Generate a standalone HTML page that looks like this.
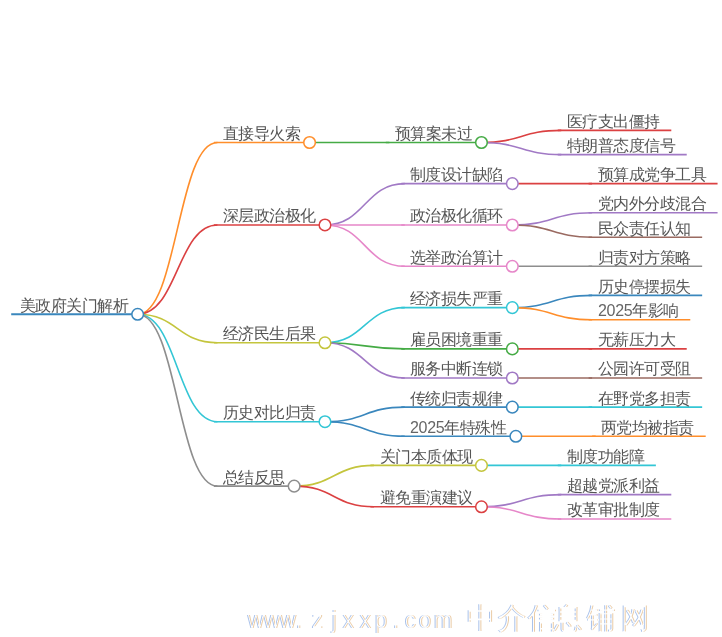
<!DOCTYPE html>
<html><head><meta charset="utf-8"><style>
html,body{margin:0;padding:0;background:#fff;width:722px;height:637px;overflow:hidden}
svg{position:absolute;left:0;top:0}
.t{position:absolute;white-space:nowrap;font-family:"Liberation Sans",sans-serif;font-size:16px;line-height:20px;letter-spacing:-0.58px;color:#555;transform-origin:0 0;transform:scale(1);will-change:transform}
.wm text{font-family:"Liberation Sans",sans-serif;fill:#000;stroke:none;letter-spacing:0}
</style></head><body>
<svg width="722" height="637" viewBox="0 0 722 637">
<path d="M137.65,314.30C177.55,314.30 177.55,142.50 217.45,142.50" stroke="#ff8e2b" stroke-width="1.6" fill="none"/>
<path d="M309.56,142.50C349.46,142.50 349.46,142.50 389.36,142.50" stroke="#45ab45" stroke-width="1.6" fill="none"/>
<path d="M481.47,142.50C521.37,142.50 521.37,130.40 561.27,130.40" stroke="#db4142" stroke-width="1.6" fill="none"/>
<path d="M481.47,142.50C521.37,142.50 521.37,154.60 561.27,154.60" stroke="#a179c5" stroke-width="1.6" fill="none"/>
<path d="M137.65,314.30C177.55,314.30 177.55,224.95 217.45,224.95" stroke="#db4142" stroke-width="1.6" fill="none"/>
<path d="M324.98,224.95C364.88,224.95 364.88,183.60 404.78,183.60" stroke="#a179c5" stroke-width="1.6" fill="none"/>
<path d="M512.32,183.60C552.22,183.60 552.22,183.60 592.12,183.60" stroke="#db4142" stroke-width="1.6" fill="none"/>
<path d="M324.98,224.95C364.88,224.95 364.88,225.00 404.78,225.00" stroke="#e687c9" stroke-width="1.6" fill="none"/>
<path d="M512.32,225.00C552.22,225.00 552.22,212.80 592.12,212.80" stroke="#a179c5" stroke-width="1.6" fill="none"/>
<path d="M512.32,225.00C552.22,225.00 552.22,237.20 592.12,237.20" stroke="#9a6a61" stroke-width="1.6" fill="none"/>
<path d="M324.98,224.95C364.88,224.95 364.88,266.30 404.78,266.30" stroke="#e687c9" stroke-width="1.6" fill="none"/>
<path d="M512.32,266.30C552.22,266.30 552.22,266.30 592.12,266.30" stroke="#8e8e8e" stroke-width="1.6" fill="none"/>
<path d="M137.65,314.30C177.55,314.30 177.55,342.80 217.45,342.80" stroke="#c4c53d" stroke-width="1.6" fill="none"/>
<path d="M324.98,342.80C364.88,342.80 364.88,307.60 404.78,307.60" stroke="#33c6d5" stroke-width="1.6" fill="none"/>
<path d="M512.32,307.60C552.22,307.60 552.22,295.40 592.12,295.40" stroke="#3a87bd" stroke-width="1.6" fill="none"/>
<path d="M512.32,307.60C552.22,307.60 552.22,319.80 592.12,319.80" stroke="#ff8e2b" stroke-width="1.6" fill="none"/>
<path d="M324.98,342.80C364.88,342.80 364.88,348.90 404.78,348.90" stroke="#45ab45" stroke-width="1.6" fill="none"/>
<path d="M512.32,348.90C552.22,348.90 552.22,348.90 592.12,348.90" stroke="#db4142" stroke-width="1.6" fill="none"/>
<path d="M324.98,342.80C364.88,342.80 364.88,378.00 404.78,378.00" stroke="#a179c5" stroke-width="1.6" fill="none"/>
<path d="M512.32,378.00C552.22,378.00 552.22,378.00 592.12,378.00" stroke="#9a6a61" stroke-width="1.6" fill="none"/>
<path d="M137.65,314.30C177.55,314.30 177.55,421.70 217.45,421.70" stroke="#33c6d5" stroke-width="1.6" fill="none"/>
<path d="M324.98,421.70C364.88,421.70 364.88,407.10 404.78,407.10" stroke="#3a87bd" stroke-width="1.6" fill="none"/>
<path d="M512.32,407.10C552.22,407.10 552.22,407.10 592.12,407.10" stroke="#33c6d5" stroke-width="1.6" fill="none"/>
<path d="M324.98,421.70C364.88,421.70 364.88,436.30 404.78,436.30" stroke="#3a87bd" stroke-width="1.6" fill="none"/>
<path d="M515.88,436.30C555.78,436.30 555.78,436.30 595.68,436.30" stroke="#ff8e2b" stroke-width="1.6" fill="none"/>
<path d="M137.65,314.30C177.55,314.30 177.55,486.10 217.45,486.10" stroke="#8e8e8e" stroke-width="1.6" fill="none"/>
<path d="M294.14,486.10C334.04,486.10 334.04,465.40 373.94,465.40" stroke="#c4c53d" stroke-width="1.6" fill="none"/>
<path d="M481.47,465.40C521.37,465.40 521.37,465.40 561.27,465.40" stroke="#33c6d5" stroke-width="1.6" fill="none"/>
<path d="M294.14,486.10C334.04,486.10 334.04,506.80 373.94,506.80" stroke="#db4142" stroke-width="1.6" fill="none"/>
<path d="M481.47,506.80C521.37,506.80 521.37,494.60 561.27,494.60" stroke="#a179c5" stroke-width="1.6" fill="none"/>
<path d="M481.47,506.80C521.37,506.80 521.37,519.00 561.27,519.00" stroke="#e687c9" stroke-width="1.6" fill="none"/>
<line x1="11.20" y1="314.30" x2="137.65" y2="314.30" stroke="#3a87bd" stroke-width="2.0"/>
<line x1="213.95" y1="486.10" x2="294.14" y2="486.10" stroke="#8e8e8e" stroke-width="1.6"/>
<line x1="370.44" y1="506.80" x2="481.47" y2="506.80" stroke="#db4142" stroke-width="1.6"/>
<line x1="557.77" y1="519.00" x2="671.30" y2="519.00" stroke="#e687c9" stroke-width="1.6"/>
<line x1="557.77" y1="494.60" x2="671.30" y2="494.60" stroke="#a179c5" stroke-width="1.6"/>
<line x1="370.44" y1="465.40" x2="481.47" y2="465.40" stroke="#c4c53d" stroke-width="1.6"/>
<line x1="557.77" y1="465.40" x2="655.88" y2="465.40" stroke="#33c6d5" stroke-width="1.6"/>
<line x1="213.95" y1="421.70" x2="324.98" y2="421.70" stroke="#33c6d5" stroke-width="1.6"/>
<line x1="401.28" y1="436.30" x2="515.88" y2="436.30" stroke="#3a87bd" stroke-width="1.6"/>
<line x1="592.18" y1="436.30" x2="705.71" y2="436.30" stroke="#ff8e2b" stroke-width="1.6"/>
<line x1="401.28" y1="407.10" x2="512.32" y2="407.10" stroke="#3a87bd" stroke-width="1.6"/>
<line x1="588.62" y1="407.10" x2="702.15" y2="407.10" stroke="#33c6d5" stroke-width="1.6"/>
<line x1="213.95" y1="342.80" x2="324.98" y2="342.80" stroke="#c4c53d" stroke-width="1.6"/>
<line x1="401.28" y1="378.00" x2="512.32" y2="378.00" stroke="#a179c5" stroke-width="1.6"/>
<line x1="588.62" y1="378.00" x2="702.15" y2="378.00" stroke="#9a6a61" stroke-width="1.6"/>
<line x1="401.28" y1="348.90" x2="512.32" y2="348.90" stroke="#45ab45" stroke-width="1.6"/>
<line x1="588.62" y1="348.90" x2="686.72" y2="348.90" stroke="#db4142" stroke-width="1.6"/>
<line x1="401.28" y1="307.60" x2="512.32" y2="307.60" stroke="#33c6d5" stroke-width="1.6"/>
<line x1="588.62" y1="319.80" x2="690.29" y2="319.80" stroke="#ff8e2b" stroke-width="1.6"/>
<line x1="588.62" y1="295.40" x2="702.15" y2="295.40" stroke="#3a87bd" stroke-width="1.6"/>
<line x1="213.95" y1="224.95" x2="324.98" y2="224.95" stroke="#db4142" stroke-width="1.6"/>
<line x1="401.28" y1="266.30" x2="512.32" y2="266.30" stroke="#e687c9" stroke-width="1.6"/>
<line x1="588.62" y1="266.30" x2="702.15" y2="266.30" stroke="#8e8e8e" stroke-width="1.6"/>
<line x1="401.28" y1="225.00" x2="512.32" y2="225.00" stroke="#e687c9" stroke-width="1.6"/>
<line x1="588.62" y1="237.20" x2="702.15" y2="237.20" stroke="#9a6a61" stroke-width="1.6"/>
<line x1="588.62" y1="212.80" x2="717.57" y2="212.80" stroke="#a179c5" stroke-width="1.6"/>
<line x1="401.28" y1="183.60" x2="512.32" y2="183.60" stroke="#a179c5" stroke-width="1.6"/>
<line x1="588.62" y1="183.60" x2="717.57" y2="183.60" stroke="#db4142" stroke-width="1.6"/>
<line x1="213.95" y1="142.50" x2="309.56" y2="142.50" stroke="#ff8e2b" stroke-width="1.6"/>
<line x1="385.86" y1="142.50" x2="481.47" y2="142.50" stroke="#45ab45" stroke-width="1.6"/>
<line x1="557.77" y1="154.60" x2="686.73" y2="154.60" stroke="#a179c5" stroke-width="1.6"/>
<line x1="557.77" y1="130.40" x2="671.30" y2="130.40" stroke="#db4142" stroke-width="1.6"/>
<circle cx="137.65" cy="314.30" r="5.8" fill="#fff" stroke="#3a87bd" stroke-width="1.5"/>
<circle cx="294.14" cy="486.10" r="5.8" fill="#fff" stroke="#8e8e8e" stroke-width="1.5"/>
<circle cx="481.47" cy="506.80" r="5.8" fill="#fff" stroke="#db4142" stroke-width="1.5"/>
<circle cx="481.47" cy="465.40" r="5.8" fill="#fff" stroke="#c4c53d" stroke-width="1.5"/>
<circle cx="324.98" cy="421.70" r="5.8" fill="#fff" stroke="#33c6d5" stroke-width="1.5"/>
<circle cx="515.88" cy="436.30" r="5.8" fill="#fff" stroke="#3a87bd" stroke-width="1.5"/>
<circle cx="512.32" cy="407.10" r="5.8" fill="#fff" stroke="#3a87bd" stroke-width="1.5"/>
<circle cx="324.98" cy="342.80" r="5.8" fill="#fff" stroke="#c4c53d" stroke-width="1.5"/>
<circle cx="512.32" cy="378.00" r="5.8" fill="#fff" stroke="#a179c5" stroke-width="1.5"/>
<circle cx="512.32" cy="348.90" r="5.8" fill="#fff" stroke="#45ab45" stroke-width="1.5"/>
<circle cx="512.32" cy="307.60" r="5.8" fill="#fff" stroke="#33c6d5" stroke-width="1.5"/>
<circle cx="324.98" cy="224.95" r="5.8" fill="#fff" stroke="#db4142" stroke-width="1.5"/>
<circle cx="512.32" cy="266.30" r="5.8" fill="#fff" stroke="#e687c9" stroke-width="1.5"/>
<circle cx="512.32" cy="225.00" r="5.8" fill="#fff" stroke="#e687c9" stroke-width="1.5"/>
<circle cx="512.32" cy="183.60" r="5.8" fill="#fff" stroke="#a179c5" stroke-width="1.5"/>
<circle cx="309.56" cy="142.50" r="5.8" fill="#fff" stroke="#ff8e2b" stroke-width="1.5"/>
<circle cx="481.47" cy="142.50" r="5.8" fill="#fff" stroke="#45ab45" stroke-width="1.5"/>
<defs><filter id="emb" x="-0.02" y="-0.2" width="1.04" height="1.4" color-interpolation-filters="sRGB">
<feConvolveMatrix in="SourceAlpha" order="2 1" kernelMatrix="1 -1" divisor="1" bias="0" preserveAlpha="false" edgeMode="none" result="L"/>
<feConvolveMatrix in="SourceAlpha" order="2 1" kernelMatrix="-1 1" divisor="1" bias="0" preserveAlpha="false" edgeMode="none" result="R"/>
<feFlood flood-color="#7fa3e0" flood-opacity="0.68"/><feComposite in2="L" operator="in" result="Lb"/>
<feFlood flood-color="#e0b27a" flood-opacity="0.68"/><feComposite in2="R" operator="in" result="Ro"/>
<feMerge><feMergeNode in="Lb"/><feMergeNode in="Ro"/></feMerge>
</filter></defs><g class="wm" filter="url(#emb)"><text x="247 263 279 295 311 331 342 359 374 392 404 418 433" y="628" style="font-size:23px">www.zjxxp.com</text><text x="466 497 527 553 586 620" y="628" style="font-size:29px">中介信息铺网</text></g>
</svg>
<div class="t" style="left:20.30px;top:295.70px">美政府关门解析</div>
<div class="t" style="left:223.05px;top:467.50px">总结反思</div>
<div class="t" style="left:379.54px;top:488.20px">避免重演建议</div>
<div class="t" style="left:566.87px;top:500.40px">改革审批制度</div>
<div class="t" style="left:566.87px;top:476.00px">超越党派利益</div>
<div class="t" style="left:379.54px;top:446.80px">关门本质体现</div>
<div class="t" style="left:566.87px;top:446.80px">制度功能障</div>
<div class="t" style="left:223.05px;top:403.10px">历史对比归责</div>
<div class="t" style="left:410.38px;top:417.70px"><span class="d" style="letter-spacing:-0.3px;color:#666">2025</span>年特殊性</div>
<div class="t" style="left:601.28px;top:417.70px">两党均被指责</div>
<div class="t" style="left:410.38px;top:388.50px">传统归责规律</div>
<div class="t" style="left:597.72px;top:388.50px">在野党多担责</div>
<div class="t" style="left:223.05px;top:324.20px">经济民生后果</div>
<div class="t" style="left:410.38px;top:359.40px">服务中断连锁</div>
<div class="t" style="left:597.72px;top:359.40px">公园许可受阻</div>
<div class="t" style="left:410.38px;top:330.30px">雇员困境重重</div>
<div class="t" style="left:597.72px;top:330.30px">无薪压力大</div>
<div class="t" style="left:410.38px;top:289.00px">经济损失严重</div>
<div class="t" style="left:597.72px;top:301.20px"><span class="d" style="letter-spacing:-0.3px;color:#666">2025</span>年影响</div>
<div class="t" style="left:597.72px;top:276.80px">历史停摆损失</div>
<div class="t" style="left:223.05px;top:206.35px">深层政治极化</div>
<div class="t" style="left:410.38px;top:247.70px">选举政治算计</div>
<div class="t" style="left:597.72px;top:247.70px">归责对方策略</div>
<div class="t" style="left:410.38px;top:206.40px">政治极化循环</div>
<div class="t" style="left:597.72px;top:218.60px">民众责任认知</div>
<div class="t" style="left:597.72px;top:194.20px">党内外分歧混合</div>
<div class="t" style="left:410.38px;top:165.00px">制度设计缺陷</div>
<div class="t" style="left:597.72px;top:165.00px">预算成党争工具</div>
<div class="t" style="left:223.05px;top:123.90px">直接导火索</div>
<div class="t" style="left:394.96px;top:123.90px">预算案未过</div>
<div class="t" style="left:566.87px;top:136.00px">特朗普态度信号</div>
<div class="t" style="left:566.87px;top:111.80px">医疗支出僵持</div>
</body></html>
